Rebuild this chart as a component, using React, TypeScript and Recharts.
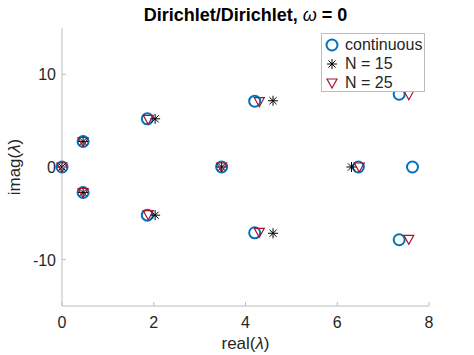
import React from "react";
import { ScatterChart, Scatter, XAxis, YAxis } from "recharts";

// eigenvalues
const contRe = [0, 0.46, 0.46, 1.86, 1.86, 3.48, 4.2, 4.2, 6.46, 7.35, 7.35, 7.64];
const contIm = [0, 2.75, -2.75, 5.2, -5.2, 0, 7.1, -7.1, 0, 7.85, -7.85, 0];

const n15Re = [0, 0.46, 0.46, 2.03, 2.03, 3.48, 4.6, 4.6, 6.31];
const n15Im = [0, 2.75, -2.75, 5.2, -5.2, 0, 7.15, -7.15, 0];

const n25Re = [0, 0.46, 0.46, 1.88, 1.88, 3.48, 4.3, 4.3, 6.48, 7.56, 7.56];
const n25Im = [0, 2.75, -2.75, 5.15, -5.15, 0, 7.05, -7.05, 0, 7.8, -7.8];

const xTicks = [0, 2, 4, 6, 8];
const yTicks = [-10, 0, 10];

const toPts = (re: number[], im: number[]) => re.map((x, i) => ({ x, y: im[i] }));

const BLUE = "#0072BD";
const RED = "#A2142F";
const AX = "#bcbcbc";
const TXT = "#262626";
const FONT = "'Liberation Sans', Arial, Helvetica, sans-serif";

const Ring = (p: any) => (
  <circle cx={p.cx} cy={p.cy} r={5.5} fill="none" stroke={BLUE} strokeWidth={2} />
);

const Star = (p: any) => {
  const s = 5;
  const d = 3.6;
  return (
    <g stroke="#000" strokeWidth={1}>
      <line x1={p.cx - s} y1={p.cy} x2={p.cx + s} y2={p.cy} />
      <line x1={p.cx} y1={p.cy - s} x2={p.cx} y2={p.cy + s} />
      <line x1={p.cx - d} y1={p.cy - d} x2={p.cx + d} y2={p.cy + d} />
      <line x1={p.cx - d} y1={p.cy + d} x2={p.cx + d} y2={p.cy - d} />
    </g>
  );
};

const Tri = (p: any) => (
  <polygon
    points={`${p.cx - 5},${p.cy - 4} ${p.cx + 5},${p.cy - 4} ${p.cx},${p.cy + 5}`}
    fill="none"
    stroke={RED}
    strokeWidth={1.2}
  />
);

const BottomTick = (p: any) => (
  <g>
    <line x1={p.x} y1={p.y} x2={p.x} y2={p.y - 4} stroke={AX} />
    <text x={p.x} y={p.y + 22} textAnchor="middle" fontSize={16} fill={TXT} fontFamily={FONT}>
      {p.payload.value}
    </text>
  </g>
);
const TopTick = (p: any) => <line x1={p.x} y1={p.y} x2={p.x} y2={p.y + 4} stroke={AX} />;
const LeftTick = (p: any) => (
  <g>
    <line x1={p.x} y1={p.y} x2={p.x + 4} y2={p.y} stroke={AX} />
    <text x={p.x - 6} y={p.y + 6} textAnchor="end" fontSize={16} fill={TXT} fontFamily={FONT}>
      {p.payload.value}
    </text>
  </g>
);
const RightTick = (p: any) => <line x1={p.x} y1={p.y} x2={p.x - 4} y2={p.y} stroke={AX} />;

const legendRows = [
  { name: "continuous", icon: <circle cx={8} cy={8} r={5.5} fill="none" stroke={BLUE} strokeWidth={2} /> },
  { name: "N = 15", icon: <Star cx={8} cy={8} /> },
  { name: "N = 25", icon: <Tri cx={8} cy={8} /> },
];

const LegendBox = () => (
  <div
    style={{
      position: "absolute",
      left: 321,
      top: 33,
      border: `1px solid ${AX}`,
      background: "#fff",
      width: 104,
      height: 59,
      boxSizing: "border-box",
      padding: "1px 0 0 2px",
      fontFamily: FONT,
      fontSize: 16,
      color: TXT,
      zIndex: 2,
    }}
  >
    {legendRows.map((r) => (
      <div key={r.name} style={{ display: "flex", alignItems: "center", height: 19 }}>
        <svg width={18} height={16} style={{ marginRight: 3 }}>
          {r.icon}
        </svg>
        <span>{r.name}</span>
      </div>
    ))}
  </div>
);

export default function App() {
  return (
    <div style={{ position: "absolute", left: 0, top: 0, width: 474, height: 355, background: "#fff" }}>
      <div
        style={{
          position: "absolute",
          left: 62,
          width: 367,
          top: 5,
          textAlign: "center",
          fontFamily: FONT,
          fontWeight: "bold",
          fontSize: 18,
          lineHeight: "20px",
          color: "#000",
          zIndex: 2,
        }}
      >
        Dirichlet/Dirichlet, <span style={{ fontStyle: "italic", fontWeight: "normal" }}>ω</span> = 0
      </div>
      <LegendBox />
      <ScatterChart width={474} height={355} margin={{ top: 28, right: 45, bottom: 19, left: 22 }}>
        <XAxis
          xAxisId="b"
          dataKey="x"
          type="number"
          domain={[0, 8]}
          ticks={xTicks}
          interval={0}
          height={30}
          tickSize={0}
          tickMargin={0}
          stroke={AX}
          tick={<BottomTick />}
          label={{
            content: () => (
              <text x={245.5} y={349} textAnchor="middle" fontSize={17} fill={TXT} fontFamily={FONT}>
                real(<tspan fontStyle="italic">λ</tspan>)
              </text>
            ),
          }}
        />
        <XAxis
          xAxisId="t"
          orientation="top"
          dataKey="x"
          type="number"
          domain={[0, 8]}
          ticks={xTicks}
          interval={0}
          height={0}
          tickSize={0}
          tickMargin={0}
          stroke={AX}
          tick={<TopTick />}
        />
        <YAxis
          yAxisId="l"
          dataKey="y"
          type="number"
          domain={[-15, 15]}
          ticks={yTicks}
          interval={0}
          width={40}
          tickSize={0}
          tickMargin={0}
          stroke={AX}
          tick={<LeftTick />}
          label={{
            content: () => (
              <text
                x={20}
                y={167}
                transform="rotate(-90 20 167)"
                textAnchor="middle"
                fontSize={17}
                fill={TXT}
                fontFamily={FONT}
              >
                imag(<tspan fontStyle="italic">λ</tspan>)
              </text>
            ),
          }}
        />
        <YAxis
          yAxisId="r"
          orientation="right"
          dataKey="y"
          type="number"
          domain={[-15, 15]}
          ticks={yTicks}
          interval={0}
          width={0}
          tickSize={0}
          tickMargin={0}
          stroke={AX}
          tick={<RightTick />}
        />
        <Scatter
          name="continuous"
          data={toPts(contRe, contIm)}
          xAxisId="b"
          yAxisId="l"
          shape={<Ring />}
          isAnimationActive={false}
        />
        <Scatter
          name="N = 15"
          data={toPts(n15Re, n15Im)}
          xAxisId="b"
          yAxisId="l"
          shape={<Star />}
          isAnimationActive={false}
        />
        <Scatter
          name="N = 25"
          data={toPts(n25Re, n25Im)}
          xAxisId="b"
          yAxisId="l"
          shape={<Tri />}
          isAnimationActive={false}
        />
      </ScatterChart>
    </div>
  );
}
